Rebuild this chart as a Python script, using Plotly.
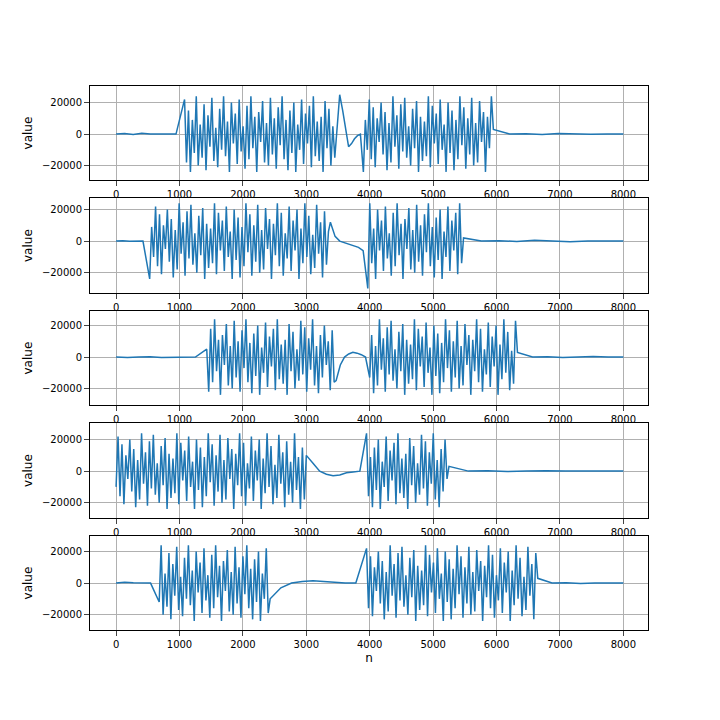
import plotly.graph_objects as go
import numpy as np

# burst sample values (alternating peaks)
burst_a = [22000, -18000, 15000, -24000, 9000, -12000, 24000, -20000, 6000, -15000,
           19000, -23000, 12000, -8000, 23000, -17000, 4000, -21000, 16000, -10000,
           24000, -14000, 8000, -24000, 20000, -6000, 13000, -19000, 22000, -11000,
           5000, -22000, 18000, -16000, 24000, -9000, 11000, -24000, 14000, -5000,
           21000, -18000, 7000, -20000, 23000, -13000, 10000, -22000, 17000, -7000,
           24000, -16000, 9000, -23000, 15000, -12000, 20000, -24000, 6000, -10000,
           22000, -19000, 13000, -6000, 18000, -21000, 24000, -14000, 8000, -17000,
           11000, -24000, 21000, -9000, 16000, -20000, 5000, -15000, 23000, -11000,
           19000, -22000, 12000, -8000, 24000, -18000, 7000, -23000, 14000, -13000,
           20000, -5000, 10000, -21000, 17000, -16000, 22000, -10000, 9000, -24000]
burst_b = burst_a[::-1]

# each panel: list of segments (start n, end n, values)
panel1 = [(0, 1080, [0, 300, -200, 500, 0, 200, 0, 0]),
          (1080, 3480, burst_a[:78]),
          (3480, 3900, [0, 25000, 15000, 2000, -8000, -6000, -3000, -1000, 0]),
          (3900, 5950, burst_b[:66]),
          (5950, 8000, [3000, 0, 200, -200, 300, 0, -100, 0])]
panel2 = [(0, 530, [0, 200, -100, 0, 0]),
          (530, 3380, burst_b[:92]),
          (3380, 3970, [12000, 3000, 0, -1000, -2000, -3000, -4000, -6000]),
          (3970, 5480, [-30000] + burst_a[20:68]),
          (5480, 8000, [2000, 0, 300, -300, 500, 0, -400, 0, 0])]
panel3 = [(0, 1430, [0, -300, 0, 200, -200, 0, 0, 0]),
          (1430, 3470, burst_a[30:96]),
          (3470, 4000, [-15000, -5000, 0, 2000, 3000, 2500, 1500, 0]),
          (4000, 6330, burst_b[10:86]),
          (6330, 8000, [3000, 0, 200, -200, 0, 300, 0])]
panel4 = [(0, 3000, burst_b[2:99]),
          (3000, 3950, [10000, 5000, 0, -2000, -3000, -2500, -1000, -500, 0]),
          (3950, 5250, burst_a[50:92]),
          (5250, 8000, [3000, 0, 200, -300, 0, 300, 0, -200, 0])]
panel5 = [(0, 680, [0, 500, 200, 0, 0]),
          (680, 2430, burst_a[5:62]),
          (2430, 3950, [-10000, -3000, 0, 1000, 1500, 1000, 500, 0, 0]),
          (3950, 6650, burst_b[3:90]),
          (6650, 8000, [3000, 0, 200, -200, 0, 0])]

panels = [panel1, panel2, panel3, panel4, panel5]
y_ranges = [[-29200, 30500], [-33000, 27300], [-30500, 29200], [-29800, 30500], [-29800, 29800]]
sh = 0.011
domains = [[0.75 + sh, 0.8806 + sh], [0.593 + sh, 0.725 + sh], [0.4375 + sh, 0.568 + sh],
           [0.2806 + sh, 0.4125 + sh], [0.125 + sh, 0.2556 + sh]]

fig = go.Figure()
for i, segs in enumerate(panels):
    xs, ys = [], []
    for x0, x1, vals in segs:
        xs.extend(np.linspace(x0, x1, len(vals), endpoint=False))
        ys.extend(vals)
    xs.append(8000)
    ys.append(0)
    k = "" if i == 0 else str(i + 1)
    fig.add_trace(go.Scatter(x=xs, y=ys, mode="lines", line=dict(color="#1f77b4", width=1.5),
                             xaxis="x" + k, yaxis="y" + k, showlegend=False))
    ax = dict(domain=[0.114, 0.889], range=[-410, 8390], tickvals=list(range(0, 8001, 1000)),
              showgrid=True, gridcolor="#b0b0b0", showline=True, mirror=True, linecolor="black",
              ticks="outside", zeroline=False, anchor="y" + k)
    ay = dict(domain=domains[i], range=y_ranges[i], tickvals=[-20000, 0, 20000],
              ticktext=["\u221220000", "0", "20000"],
              showgrid=True, gridcolor="#b0b0b0", showline=True, mirror=True, linecolor="black",
              ticks="outside", zeroline=False, anchor="x" + k,
              title=dict(text="value", standoff=6))
    if i == 4:
        ax["title"] = dict(text="n", standoff=4)
    fig.layout["xaxis" + k] = ax
    fig.layout["yaxis" + k] = ay

fig.update_layout(width=720, height=720, margin=dict(l=0, r=0, t=0, b=0),
                  plot_bgcolor="white", paper_bgcolor="white",
                  font=dict(family="DejaVu Sans", size=10, color="black"))
fig.write_html("out.html")
